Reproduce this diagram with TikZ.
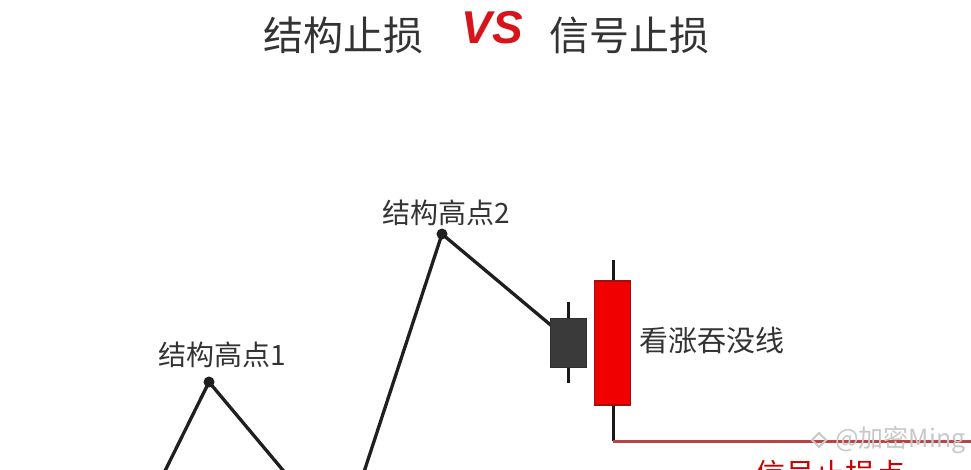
\documentclass[tikz,border=0pt]{standalone}
\usepackage{fontspec}
\setmainfont{Liberation Sans}
\newfontfamily\cjk{Noto Sans CJK SC}
\usetikzlibrary{calc}
\definecolor{txtgray}{HTML}{333333}
\definecolor{vsred}{HTML}{D8141B}
\definecolor{candlered}{HTML}{F00000}
\definecolor{candleedge}{HTML}{A01010}
\definecolor{darkc}{HTML}{3A3A3A}
\definecolor{stopred}{HTML}{B84545}
\definecolor{wmgray}{HTML}{C8C8C8}
\tikzset{
  title/.style={font=\cjk\fontsize{40}{46}\selectfont, text=txtgray, inner sep=0pt},
  lbl/.style={font=\cjk\fontsize{28}{32}\selectfont, text=txtgray, inner sep=0pt},
  zig/.style={line width=3.3pt, black!88, line join=round},
  dot/.style={circle, fill=black!88, minimum size=11pt, inner sep=0pt},
  wick/.style={line width=3pt, black!90},
  darkbody/.style={draw=darkc!80!black, fill=darkc, line width=1pt, minimum width=36pt, minimum height=49pt, inner sep=0pt},
  redbody/.style={draw=candleedge, fill=candlered, line width=1.5pt, minimum width=36pt, minimum height=124pt, inner sep=0pt},
  stopline/.style={line width=3pt, stopred},
}
\begin{document}
\begin{tikzpicture}[x=1pt,y=-1pt]
\useasboundingbox (0,0) rectangle (971,469);
\clip (0,0) rectangle (971,469);
\fill[white] (0,0) rectangle (971,469);
% title
\node[title] (t1) at (343,35) {结构止损};
\node[font=\fontsize{46}{50}\selectfont\bfseries\itshape, text=vsred, inner sep=0pt] (vs) at (492,28) {VS};
\node[title] (t2) at (629,35) {信号止损};
% zigzag
\coordinate (b1) at (160,481);
\node[dot] (p1) at (209,382) {};
\coordinate (b2) at (292,481);
\coordinate (b3) at (361,481);
\node[dot] (p2) at (442,234) {};
\coordinate (e) at (553,327);
\draw[zig] (b1) -- (p1.center) -- (b2);
\draw[zig] (b3) -- (p2.center) -- (e);
\node[lbl] (l1) at (222,355) {结构高点1};
\node[lbl] (l2) at (446,213) {结构高点2};
% dark candle
\coordinate (dw1) at (568,302);
\coordinate (dw2) at (568,383);
\draw[wick] (dw1) -- (dw2);
\node[darkbody] (dk) at (568,342.5) {};
% red candle
\coordinate (rw1) at (613,260);
\coordinate (rw2) at (613,441);
\coordinate (re) at (971,441);
\draw[wick] (rw1) -- (rw2);
\draw[stopline] (rw2) -- (re);
\node[redbody] (rd) at (612.5,343) {};
\node[lbl, anchor=west, font=\cjk\fontsize{29}{32}\selectfont] (bull) at (639,340) {看涨吞没线};
% stop label (cut off by the lower edge, as in the reference)
\node[font=\cjk\fontsize{30}{32}\selectfont, text=candlered!85!black, inner sep=0pt, anchor=west] (sl) at (755,474) {信号止损点};
% watermark
\node[draw=wmgray, line width=2pt, rotate=45, minimum size=10pt, inner sep=0pt] (wmlogo) at (819,440) {};
\node[font=\cjk\fontsize{25}{28}\selectfont, text=wmgray, inner sep=0pt, anchor=west] (wm) at (835,440) {@加密Ming};
\end{tikzpicture}
\end{document}
